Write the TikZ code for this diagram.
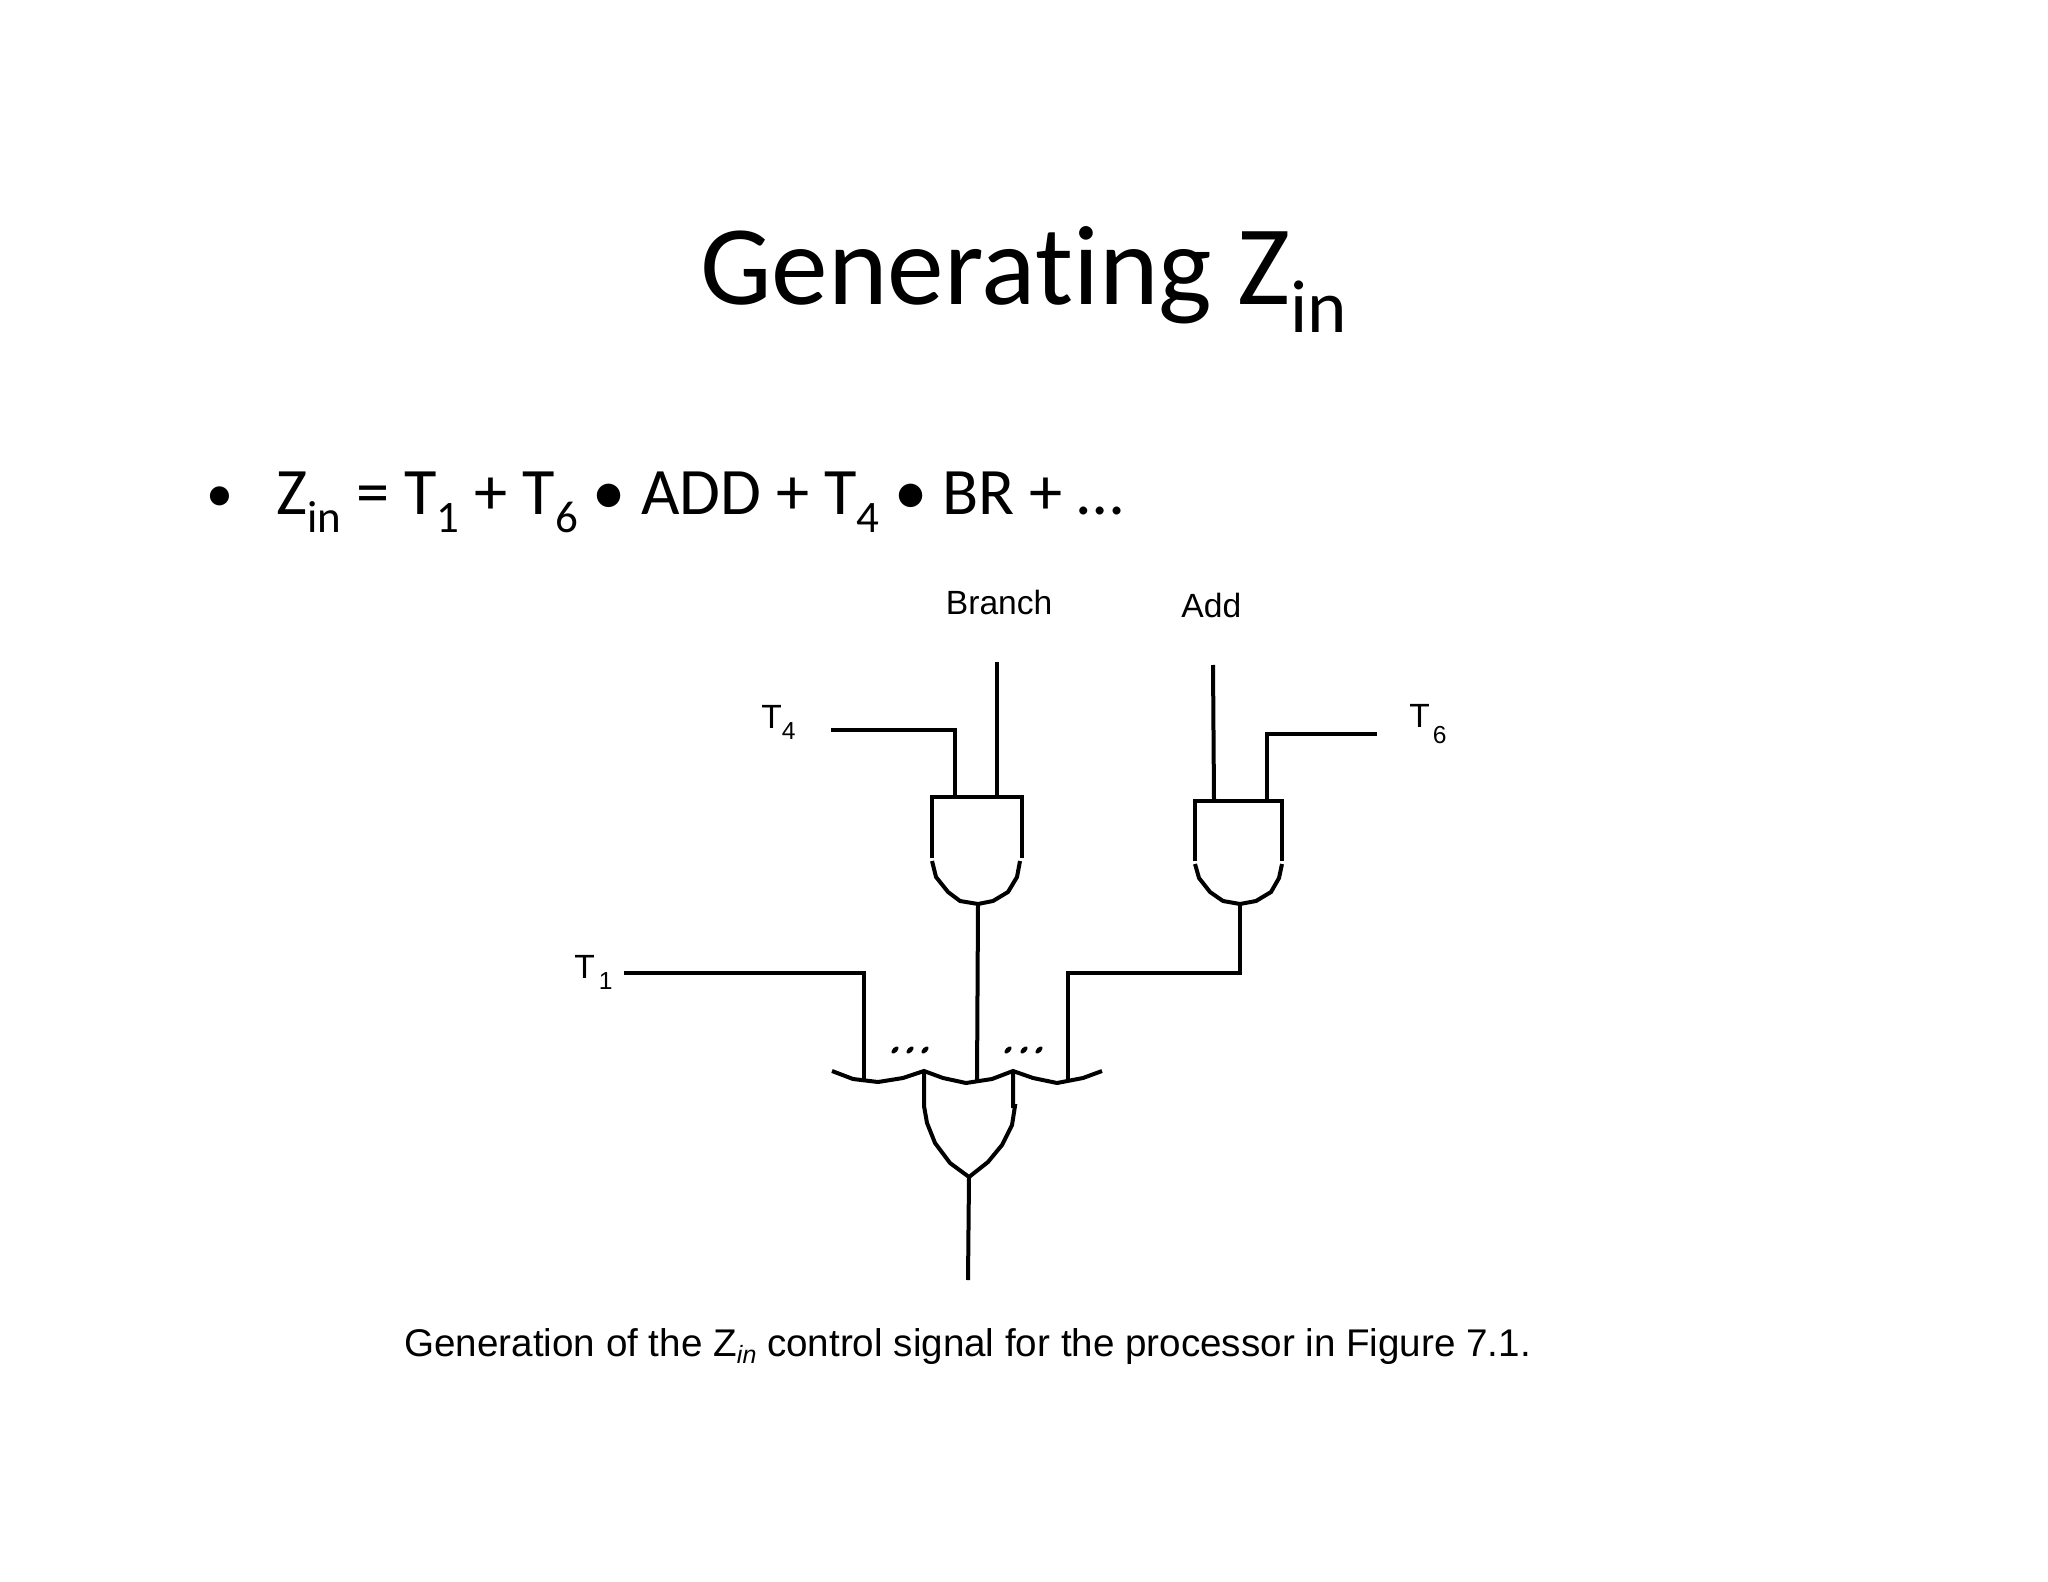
\documentclass[tikz,border=0pt]{standalone}
\usepackage{fontspec}
\setmainfont{Liberation Sans}
\newfontfamily\slidefont[Ligatures=NoCommon]{Carlito}
\newcommand{\slidesub}[1]{\raisebox{-0.27em}{\fontsize{22.5}{26}\selectfont #1}}
\newcommand{\lblsub}[2][5.8pt]{\raisebox{-#1}{\fontsize{12.3}{14}\selectfont #2}}
\usetikzlibrary{shapes.geometric}
\tikzset{
  wire/.style={line width=2pt,line join=miter},
  lbl/.style={anchor=base west,inner sep=0pt,font=\fontsize{16.8}{18}\selectfont},
  slide/.style={anchor=base west,inner sep=0pt},
  lilldot/.style={fill=black,ellipse,inner sep=0pt,minimum width=4.5pt,minimum height=2.4pt,rotate=45}
}
\begin{document}
\begin{tikzpicture}[x=0.5pt,y=-0.5pt]
\useasboundingbox (0,0) rectangle (2048,1582);
% text
\node[slide] (title) at (700,305) {\slidefont\fontsize{56.7}{60}\selectfont Generating Z\raisebox{-0.24em}{\fontsize{37.5}{40}\selectfont in}};
\node[slide] (bullet) at (206,512) {\slidefont\fontsize{27}{30}\selectfont •};
\node[slide] (body) at (276,515) {\slidefont\fontsize{33.2}{36}\selectfont Z\slidesub{in} = T\slidesub{1} + T\slidesub{6} • ADD + T\slidesub{4} • BR + …};
\node[lbl] (branch) at (945.5,614) {Branch};
\node[lbl] (add) at (1181,617.5) {Add};
\node[lbl] (lblfour) at (761,728) {T\lblsub{4}};
\node[lbl] (lblsix) at (1409,727.5) {T\kern1.5pt\lblsub[8pt]{6}};
\node[lbl] (lblone) at (574,978) {T\kern2pt\lblsub{1}};
\node[slide] (caption) at (404,1356) {\fontsize{19.3}{21}\selectfont Generation of the Z\raisebox{-3.5pt}{\fontsize{12.5}{14}\selectfont\itshape in} control signal for the processor in Figure 7.1.};
% wire ends
\coordinate (tfour) at (831,730);
\coordinate (tfourc) at (955,730);
\coordinate (tfourin) at (955,797);
\coordinate (br) at (997,662);
\coordinate (brin) at (997,797);
\coordinate (ad) at (1213,665);
\coordinate (adin) at (1214,801);
\coordinate (tsix) at (1377,734);
\coordinate (tsixc) at (1267,734);
\coordinate (tsixin) at (1267,801);
\coordinate (tone) at (624,973);
\coordinate (tonec) at (863.5,973);
\coordinate (tonein) at (863.5,1081);
\coordinate (andl) at (978,904);
\coordinate (andlin) at (977,1082);
\coordinate (andr) at (1240,904);
\coordinate (andrc) at (1240,972.5);
\coordinate (andrd) at (1068,972.5);
\coordinate (andrin) at (1068,1081);
\coordinate (orout) at (969,1177);
\coordinate (zin) at (968,1280);
% and gates
\draw[wire] (932,858) -- (932,797) -- (1022,797) -- (1022,858);
\draw[wire] (932,861) -- (936,877) -- (948,892) -- (960,901) -- (978,904) -- (993,901) -- (1008,892) -- (1017,877) -- (1020,861);
\draw[wire] (1195,861) -- (1195,801) -- (1282,801) -- (1282,861);
\draw[wire] (1195,864) -- (1199,878) -- (1210,892) -- (1223,901) -- (1240,904) -- (1256,901) -- (1271,892) -- (1279,878) -- (1282,864);
% or gate
\draw[wire] (832,1071) -- (853,1079) -- (878,1082) -- (903,1078) -- (924,1071) -- (943,1078) -- (966,1083) -- (992,1079) -- (1013,1071) -- (1033,1078) -- (1057,1083) -- (1083,1078) -- (1102,1071);
\draw[wire] (924,1071) -- (924,1106) -- (927,1123) -- (935,1143) -- (950,1163) -- (969,1177) -- (988,1162) -- (1002,1145) -- (1012,1125) -- (1015,1106) -- (1013,1106) -- (1013,1071);
% wires
\draw[wire] (tfour) -- (tfourc) -- (tfourin);
\draw[wire] (br) -- (brin);
\draw[wire] (ad) -- (adin);
\draw[wire] (tsix) -- (tsixc) -- (tsixin);
\draw[wire] (tone) -- (tonec) -- (tonein);
\draw[wire] (andl) -- (andlin);
\draw[wire] (andr) -- (andrc) -- (andrd) -- (andrin);
\draw[wire] (orout) -- (zin);
% dots
\foreach \dotx in {895,910,925,1008,1024,1039}
  \node[lilldot] (dot\dotx) at (\dotx,1050) {};
\end{tikzpicture}
\end{document}
